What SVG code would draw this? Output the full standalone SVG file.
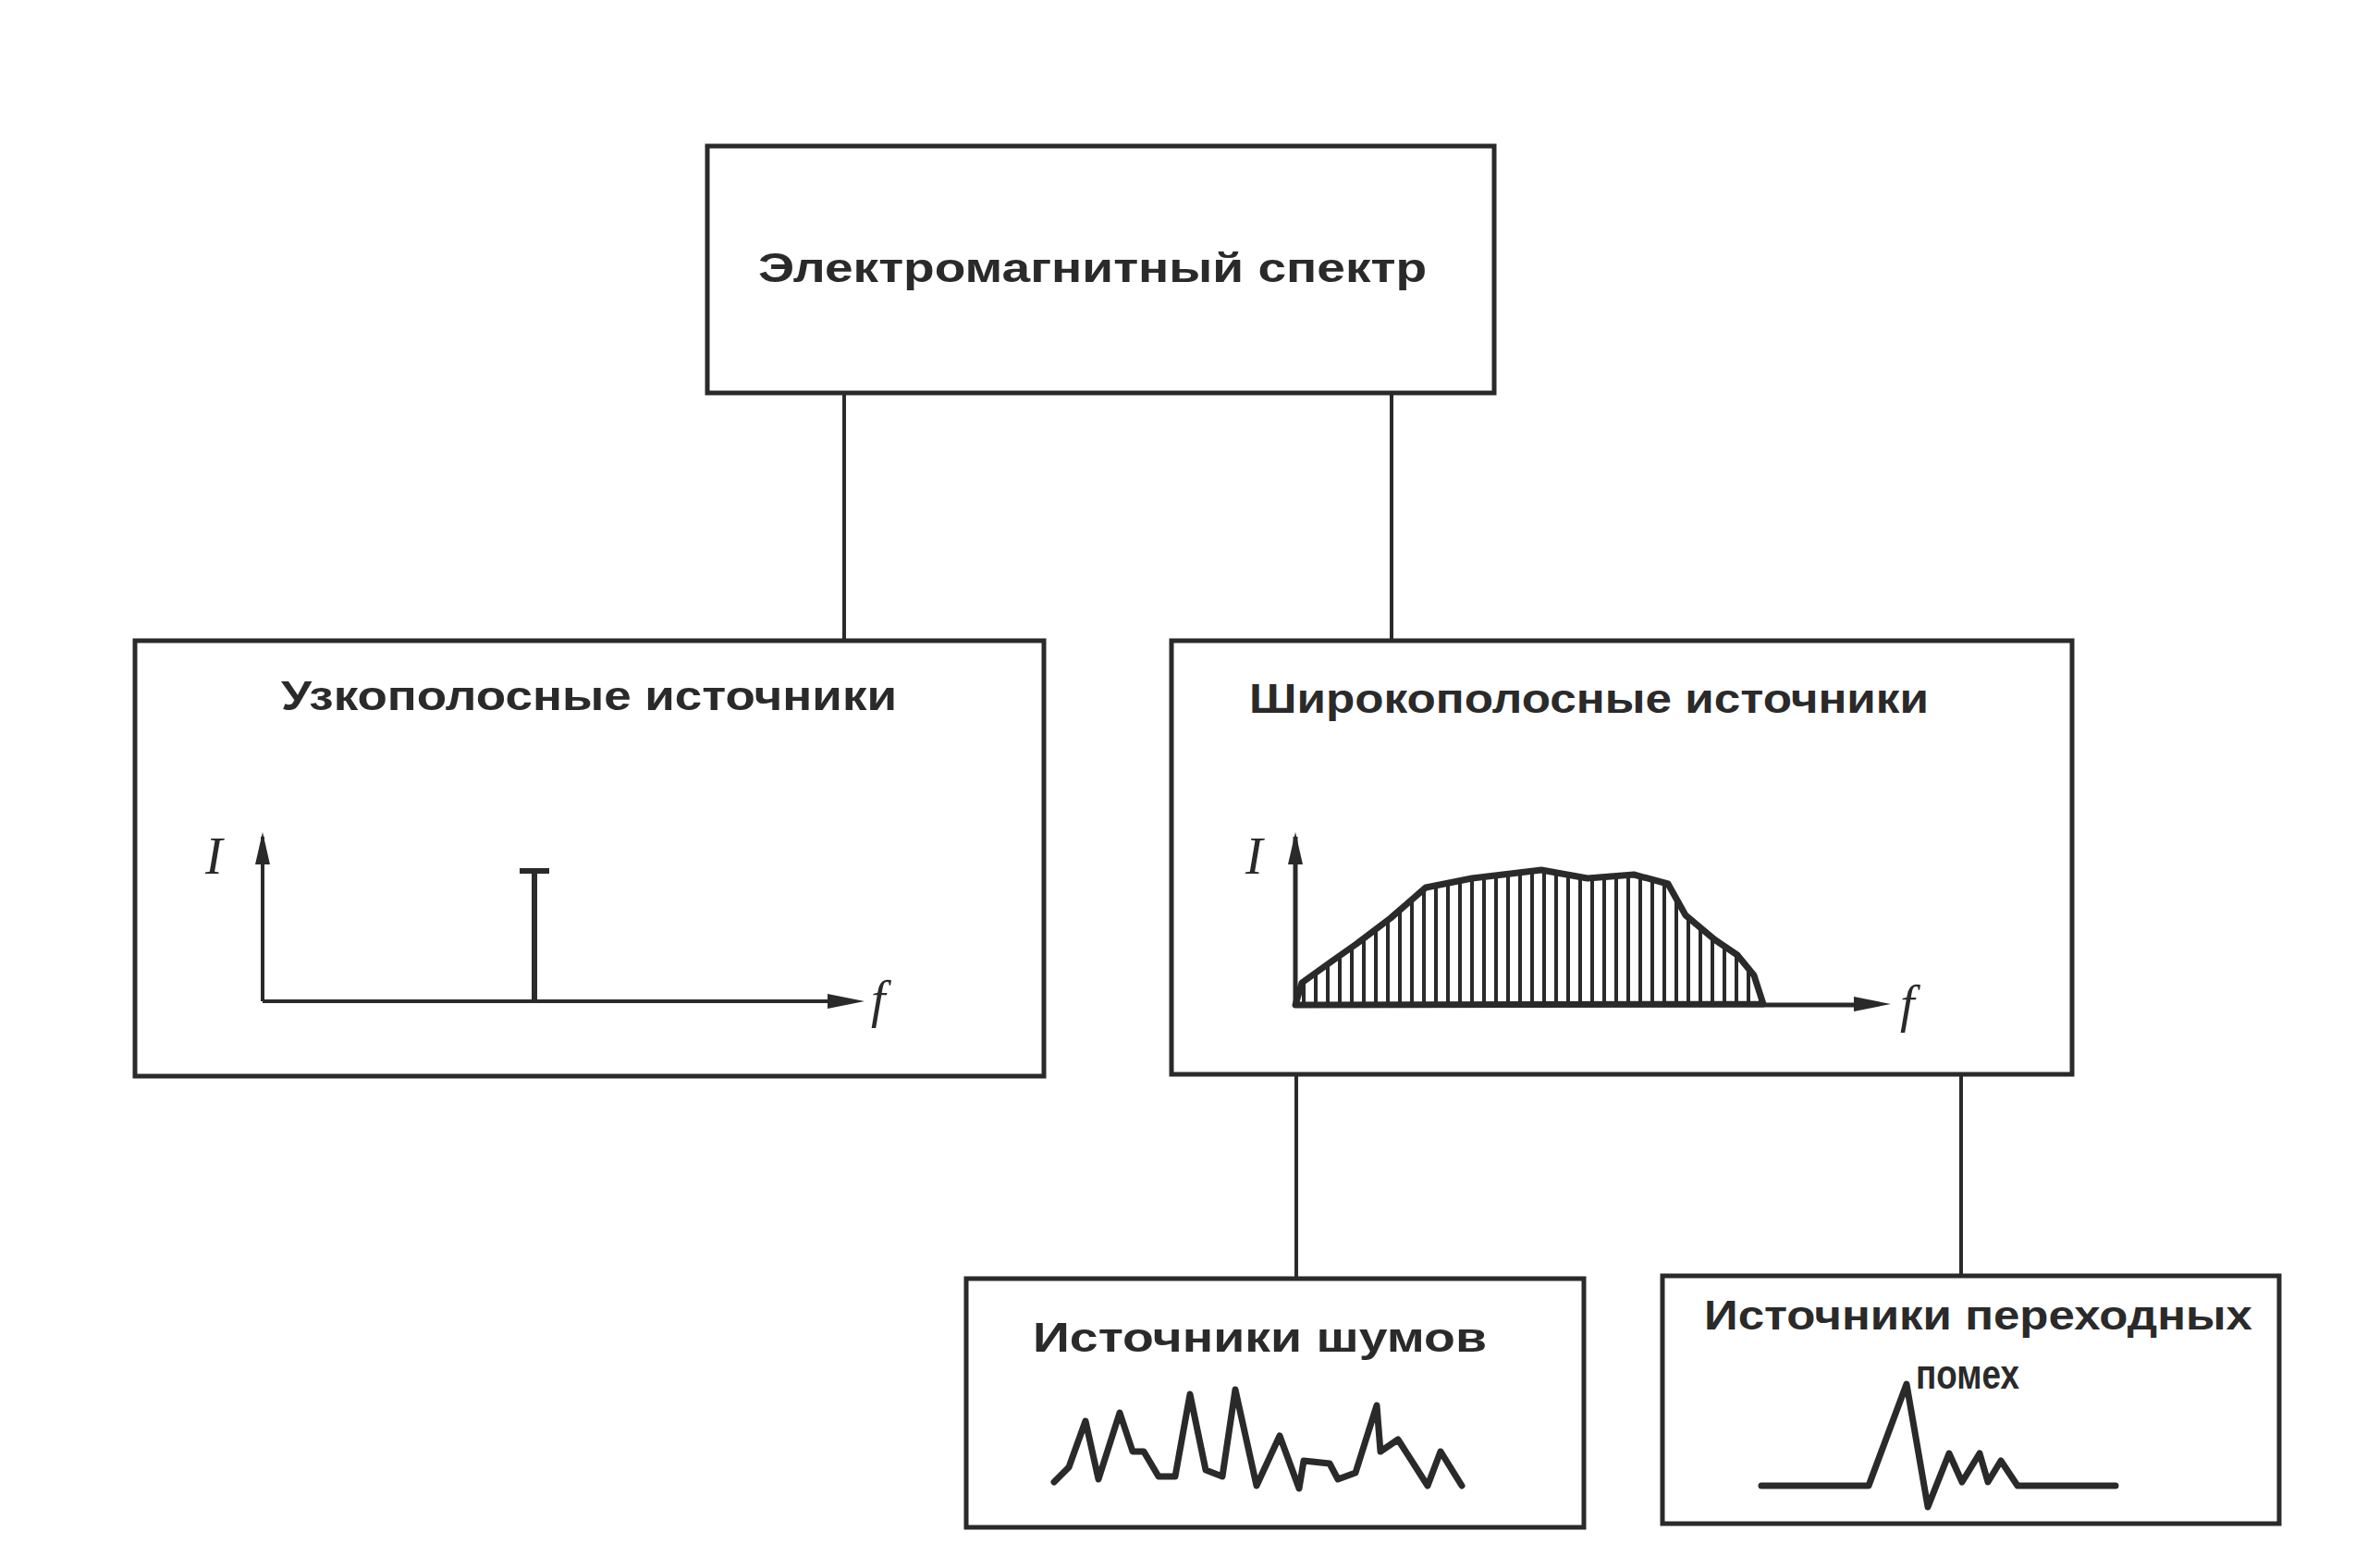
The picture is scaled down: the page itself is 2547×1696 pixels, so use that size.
<svg xmlns="http://www.w3.org/2000/svg" width="2547" height="1696" viewBox="0 0 2547 1696">
<defs>
<style>
.box{fill:none;stroke:#2a2a2a;stroke-width:5}
.ln{fill:none;stroke:#2a2a2a;stroke-width:4}
.wave{fill:none;stroke:#2a2a2a;stroke-width:7;stroke-linejoin:round;stroke-linecap:round}
.t{font-family:"Liberation Sans",Arial,sans-serif;font-weight:bold;font-size:44px;fill:#2a2a2a}
.ax{font-family:"Liberation Serif",serif;font-style:italic;font-size:56px;fill:#2a2a2a}
</style>
<pattern id="hatch" width="13" height="10" patternUnits="userSpaceOnUse">
<rect width="13" height="10" fill="#fff"/>
<line x1="6" y1="0" x2="6" y2="10" stroke="#2a2a2a" stroke-width="4"/>
</pattern>
</defs>
<rect width="2547" height="1696" fill="#fff"/>
<g id="connectors">
<line class="ln" x1="913" y1="425" x2="913" y2="693"/>
<line class="ln" x1="1505" y1="425" x2="1505" y2="693"/>
<line class="ln" x1="1402" y1="1162" x2="1402" y2="1383"/>
<line class="ln" x1="2121" y1="1162" x2="2121" y2="1378"/>
</g>
<g id="spectrum">
<rect class="box" x="765" y="158" width="851" height="267"/>
<text class="t" x="820" y="305" textLength="723" lengthAdjust="spacingAndGlyphs">Электромагнитный спектр</text>
</g>
<g id="narrow">
<rect class="box" x="146" y="693" width="983" height="471"/>
<text class="t" x="304" y="768" textLength="666" lengthAdjust="spacingAndGlyphs">Узкополосные источники</text>
<path class="ln" d="M284,1083 V905"/>
<path d="M276,935 L284,900 L292,935 Z" fill="#2a2a2a"/>
<path class="ln" d="M284,1083 H900"/>
<path d="M895,1075 L935,1083 L895,1091 Z" fill="#2a2a2a"/>
<path class="ln" d="M578,1083 V942 M562,942 H594" style="stroke-width:6"/>
<text class="ax" x="222" y="945">I</text>
<text class="ax" x="942" y="1100">f</text>
</g>
<g id="wide">
<rect class="box" x="1267" y="693" width="974" height="469"/>
<text class="t" x="1351" y="771" textLength="735" lengthAdjust="spacingAndGlyphs">Широкополосные источники</text>
<path d="M1401,1087 L1408,1063 L1440,1040 L1467,1021 L1504,993 L1542,960 L1592,950 L1667,941 L1717,950 L1767,946 L1804,956 L1823,990 L1854,1016 L1879,1033 L1897,1055 L1907,1086 Z" fill="url(#hatch)" stroke="#2a2a2a" stroke-width="7" stroke-linejoin="round"/>
<path class="ln" d="M1401,1087 V905" style="stroke-width:5"/>
<path d="M1393,935 L1401,900 L1409,935 Z" fill="#2a2a2a"/>
<path class="ln" d="M1401,1087 H2010" style="stroke-width:5"/>
<path d="M2005,1078 L2045,1086 L2005,1094 Z" fill="#2a2a2a"/>
<text class="ax" x="1347" y="945">I</text>
<text class="ax" x="2055" y="1105">f</text>
</g>
<g id="noise">
<rect class="box" x="1045" y="1383" width="668" height="269"/>
<text class="t" x="1117" y="1462" textLength="491" lengthAdjust="spacingAndGlyphs">Источники  шумов</text>
<path class="wave" d="M1140,1603 L1156,1587 L1174,1537 L1188,1600 L1211,1528 L1225,1570 L1237,1570 L1253,1597 L1271,1597 L1287,1508 L1304,1590 L1322,1597 L1336,1503 L1359,1607 L1384,1553 L1405,1610 L1410,1580 L1438,1583 L1447,1600 L1466,1593 L1489,1520 L1493,1570 L1512,1557 L1544,1607 L1558,1570 L1581,1607"/>
</g>
<g id="transient">
<rect class="box" x="1798" y="1380" width="667" height="268"/>
<text class="t" x="1843" y="1438" textLength="593" lengthAdjust="spacingAndGlyphs">Источники переходных</text>
<text class="t" x="2072" y="1502" textLength="112" lengthAdjust="spacingAndGlyphs">помех</text>
<path class="wave" d="M1905,1607 L2021,1607 L2062,1497 L2085,1630 L2108,1572 L2122,1603 L2141,1572 L2150,1603 L2164,1580 L2182,1607 L2288,1607"/>
</g>
</svg>
